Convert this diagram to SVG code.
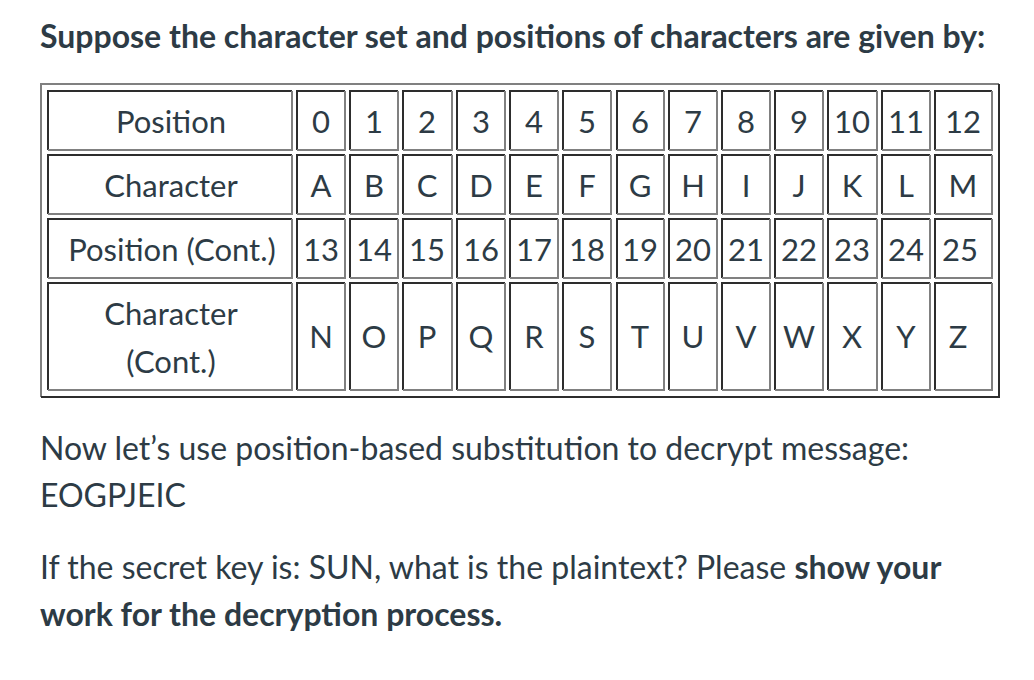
<svg xmlns="http://www.w3.org/2000/svg" width="1034" height="680" viewBox="0 0 1034 680">
<style>
text{font-family:Lato,"Liberation Sans",sans-serif;fill:#2d3b45;font-size:32px}
.t{font-size:31px;text-anchor:middle}
.b{font-weight:bold}
.hl{stroke:#2d2d2d;stroke-width:2;fill:none}
.sh{stroke:#808080;stroke-width:2;fill:none}
</style>
<rect width="1034" height="680" fill="#fff"/>
<text x="40" y="48" class="b" font-size="33">Suppose the character set and positions of characters are given by:</text>
<g id="table">
<path class="sh" d="M41 397V84H999" stroke-width="3"/>
<path class="hl" d="M999 84V397H41" stroke-width="3" stroke="#333"/>
<g id="cells">
<path class="hl" d="M48 150V91H292"/><path class="sh" d="M292 91V150H48"/>
<path class="hl" d="M48 214V155H292"/><path class="sh" d="M292 155V214H48"/>
<path class="hl" d="M48 278V219H292"/><path class="sh" d="M292 219V278H48"/>
<path class="hl" d="M48 390V283H292"/><path class="sh" d="M292 283V390H48"/>
</g>
</g>
<g id="grid">
<path class="hl" d="M297 150V91H345 M350 150V91H398 M403 150V91H452 M457 150V91H505 M510 150V91H558 M563 150V91H611 M617 150V91H664 M669 150V91H717 M722 150V91H770 M775 150V91H823 M828 150V91H877 M882 150V91H930 M935 150V91H992"/>
<path class="sh" d="M345 91V150H297 M398 91V150H350 M452 91V150H403 M505 91V150H457 M558 91V150H510 M611 91V150H563 M664 91V150H617 M717 91V150H669 M770 91V150H722 M823 91V150H775 M877 91V150H828 M930 91V150H882 M992 91V150H935"/>
<path class="hl" d="M297 214V155H345 M350 214V155H398 M403 214V155H452 M457 214V155H505 M510 214V155H558 M563 214V155H611 M617 214V155H664 M669 214V155H717 M722 214V155H770 M775 214V155H823 M828 214V155H877 M882 214V155H930 M935 214V155H992"/>
<path class="sh" d="M345 155V214H297 M398 155V214H350 M452 155V214H403 M505 155V214H457 M558 155V214H510 M611 155V214H563 M664 155V214H617 M717 155V214H669 M770 155V214H722 M823 155V214H775 M877 155V214H828 M930 155V214H882 M992 155V214H935"/>
<path class="hl" d="M297 278V219H345 M350 278V219H398 M403 278V219H452 M457 278V219H505 M510 278V219H558 M563 278V219H611 M617 278V219H664 M669 278V219H717 M722 278V219H770 M775 278V219H823 M828 278V219H877 M882 278V219H930 M935 278V219H992"/>
<path class="sh" d="M345 219V278H297 M398 219V278H350 M452 219V278H403 M505 219V278H457 M558 219V278H510 M611 219V278H563 M664 219V278H617 M717 219V278H669 M770 219V278H722 M823 219V278H775 M877 219V278H828 M930 219V278H882 M992 219V278H935"/>
<path class="hl" d="M297 390V283H345 M350 390V283H398 M403 390V283H452 M457 390V283H505 M510 390V283H558 M563 390V283H611 M617 390V283H664 M669 390V283H717 M722 390V283H770 M775 390V283H823 M828 390V283H877 M882 390V283H930 M935 390V283H992"/>
<path class="sh" d="M345 283V390H297 M398 283V390H350 M452 283V390H403 M505 283V390H457 M558 283V390H510 M611 283V390H563 M664 283V390H617 M717 283V390H669 M770 283V390H722 M823 283V390H775 M877 283V390H828 M930 283V390H882 M992 283V390H935"/>
</g>
<g id="labels">
<text class="t" x="171" y="133">Position</text>
<text class="t" x="171" y="197">Character</text>
<text class="t" x="172" y="261">Position (Cont.)</text>
<text class="t" x="171" y="325">Character</text>
<text class="t" x="171" y="373">(Cont.)</text>
</g>
<g id="r1">
<text class="t" x="321" y="133">0</text><text class="t" x="374" y="133">1</text><text class="t" x="427" y="133">2</text><text class="t" x="481" y="133">3</text><text class="t" x="534" y="133">4</text><text class="t" x="587" y="133">5</text><text class="t" x="640" y="133">6</text><text class="t" x="693" y="133">7</text><text class="t" x="746" y="133">8</text><text class="t" x="799" y="133">9</text><text class="t" x="852" y="133">10</text><text class="t" x="906" y="133">11</text><text class="t" x="963" y="133">12</text>
</g>
<g id="r2">
<text class="t" x="321" y="197">A</text><text class="t" x="374" y="197">B</text><text class="t" x="427" y="197">C</text><text class="t" x="481" y="197">D</text><text class="t" x="534" y="197">E</text><text class="t" x="587" y="197">F</text><text class="t" x="640" y="197">G</text><text class="t" x="693" y="197">H</text><text class="t" x="746" y="197">I</text><text class="t" x="799" y="197">J</text><text class="t" x="852" y="197">K</text><text class="t" x="906" y="197">L</text><text class="t" x="963" y="197">M</text>
</g>
<g id="r3">
<text class="t" x="321" y="261">13</text><text class="t" x="374" y="261">14</text><text class="t" x="427" y="261">15</text><text class="t" x="481" y="261">16</text><text class="t" x="534" y="261">17</text><text class="t" x="587" y="261">18</text><text class="t" x="640" y="261">19</text><text class="t" x="693" y="261">20</text><text class="t" x="746" y="261">21</text><text class="t" x="799" y="261">22</text><text class="t" x="852" y="261">23</text><text class="t" x="906" y="261">24</text><text class="t" x="960" y="261">25</text>
</g>
<g id="r4">
<text class="t" x="321" y="348">N</text><text class="t" x="374" y="348">O</text><text class="t" x="427" y="348">P</text><text class="t" x="481" y="348">Q</text><text class="t" x="534" y="348">R</text><text class="t" x="587" y="348">S</text><text class="t" x="640" y="348">T</text><text class="t" x="693" y="348">U</text><text class="t" x="746" y="348">V</text><text class="t" x="799" y="348">W</text><text class="t" x="852" y="348">X</text><text class="t" x="906" y="348">Y</text><text class="t" x="958" y="348">Z</text>
</g>
<text x="40" y="460">Now let’s use position-based substitution to decrypt message:</text>
<text x="40" y="507">EOGPJEIC</text>
<text x="40" y="579">If the secret key is: SUN, what is the plaintext? Please <tspan font-weight="bold">show your</tspan></text>
<text x="40" y="626" font-weight="bold">work for the decryption process.</text>
</svg>
